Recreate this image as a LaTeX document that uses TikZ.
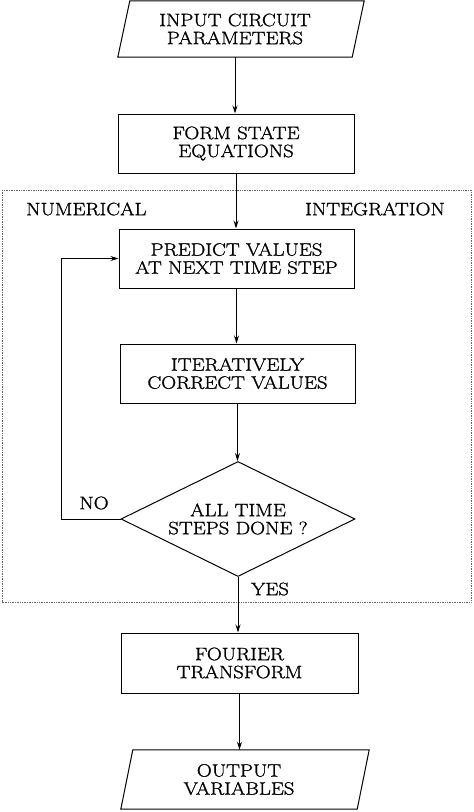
\documentclass[tikz,border=0pt]{standalone}
\usepackage{fontspec}
\setmainfont{Latin Modern Roman}[FakeStretch=1.15, FakeBold=1.2]
\usetikzlibrary{shapes.geometric,arrows.meta}
\begin{document}
\begin{tikzpicture}[x=1pt,y=-1pt,
  txt/.style={font=\fontsize{18}{18}\selectfont, align=center},
  procbox/.style={txt, draw, line width=1pt, rectangle, minimum width=236, minimum height=59, inner sep=0},
  iobox/.style={txt, rectangle, minimum height=56, inner sep=0},
  decbox/.style={txt, draw, line width=1pt, diamond, aspect=2, minimum width=234, minimum height=115, inner sep=0},
  arr/.style={line width=0.9pt, -{Stealth[length=8pt,width=5pt]}},
  lbl/.style={font=\fontsize{18}{18}\selectfont, inner sep=0},
  frame/.style={draw=black!60, line width=0.7pt, densely dotted}
]
\useasboundingbox (0,0) rectangle (474,812);
% dotted frame
\draw[frame] (2,190) rectangle (471,602);
% nodes
\node[iobox, minimum width=234] (inp) at (235,29) {INPUT CIRCUIT\\PARAMETERS};
\draw[line width=1pt] (inp.south west) -- (inp.south east) -- ([xshift=12]inp.north east) -- ([xshift=12]inp.north west) -- cycle;
\node[procbox] (form) at (236,143.5) {FORM STATE\\EQUATIONS};
\node[lbl, anchor=west] (num) at (26,209) {NUMERICAL};
\node[lbl, anchor=east] (int) at (445,209) {INTEGRATION};
\node[procbox, minimum width=235] (pred) at (236.5,258.5) {PREDICT VALUES\\AT NEXT TIME STEP};
\node[procbox, minimum width=235] (iter) at (237.5,373.5) {ITERATIVELY\\CORRECT VALUES};
\node[decbox] (dec) at (238,519) {ALL TIME\\STEPS DONE ?};
\node[lbl] (no) at (94,503) {NO};
\node[lbl] (yes) at (270,589) {YES};
\node[procbox, minimum width=237, minimum height=60] (four) at (239.5,663) {FOURIER\\TRANSFORM};
\node[iobox, minimum width=236, minimum height=59] (outp) at (239,779.5) {OUTPUT\\VARIABLES};
\draw[line width=1pt] (outp.south west) -- (outp.south east) -- ([xshift=12]outp.north east) -- ([xshift=12]outp.north west) -- cycle;
% connectors
\draw[arr] (inp.south) -- (inp.south |- form.north);
\draw[arr] (form.south) -- (form.south |- pred.north);
\draw[arr] (pred.south) -- (pred.south |- iter.north);
\draw[arr] (iter.south) -- (iter.south |- dec.north);
\draw[arr] (dec.south) -- (dec.south |- four.north);
\draw[arr] (four.south) -- (four.south |- outp.north);
\coordinate (lp) at (61,519);
\draw[arr] (dec.west) -- (lp) |- (pred.west);
\end{tikzpicture}
\end{document}
